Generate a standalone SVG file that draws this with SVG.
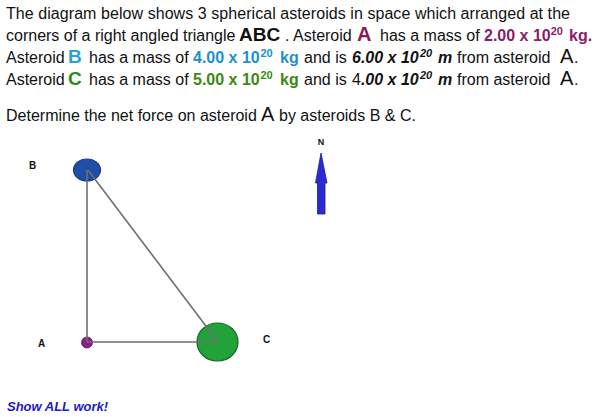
<svg xmlns="http://www.w3.org/2000/svg" width="596" height="417" viewBox="0 0 596 417">
<style>
text{font-family:"Liberation Sans",Arial,sans-serif;fill:#111}
.t{font-size:16px}
.b{font-weight:bold}
.bi{font-weight:bold;font-style:italic}
.sup{font-size:11px;font-weight:bold}
.mag{fill:#8a1c6a}
.blu{fill:#1e90cc}
.grn{fill:#3a8a12}
.lbl{font-size:10px;font-weight:bold}
.edge{stroke:#6e6e6e;stroke-width:1.6;fill:none}
</style>
<rect width="596" height="417" fill="#fff"/>
<g id="text">
<text class="t" x="6" y="19" textLength="564" lengthAdjust="spacing">The diagram below shows 3 spherical asteroids in space which arranged at the</text>
<text class="t" y="41"><tspan x="6">corners of a right angled triangle</tspan><tspan x="239" class="b" style="font-size:19px">ABC</tspan><tspan x="285">. Asteroid</tspan><tspan x="357" class="b mag" style="font-size:20px;fill:#8a1a5c">A</tspan><tspan x="380">has a mass of</tspan><tspan x="484" class="b mag">2.00 x 10</tspan><tspan class="sup mag" dy="-6">20</tspan><tspan class="b mag" dy="6" x="569">kg.</tspan></text>
<text class="t" y="63"><tspan x="6">Asteroid</tspan><tspan x="68" class="b" style="font-size:19px;fill:#2aa0dc">B</tspan><tspan x="89">has a mass of</tspan><tspan x="193" class="b blu">4.00 x 10</tspan><tspan x="260.5" class="sup blu" dy="-6">20</tspan><tspan x="280" class="b blu" dy="6">kg</tspan><tspan x="304">and is</tspan><tspan x="352" class="bi">6.00 x 10</tspan><tspan x="420" class="sup" style="font-style:italic" dy="-6">20</tspan><tspan x="438" class="bi" dy="6">m</tspan><tspan x="457">from asteroid</tspan><tspan x="560" style="font-size:20px">A</tspan><tspan x="574">.</tspan></text>
<text class="t" y="85"><tspan x="6">Asteroid</tspan><tspan x="68" class="b" style="font-size:19px;fill:#2a8a1e">C</tspan><tspan x="89">has a mass of</tspan><tspan x="193" class="b grn">5.00 x 10</tspan><tspan x="260.5" class="sup grn" dy="-6">20</tspan><tspan x="280" class="b grn" dy="6">kg</tspan><tspan x="304">and is</tspan><tspan x="352">4</tspan><tspan class="bi">.00 x 10</tspan><tspan x="420" class="sup" style="font-style:italic" dy="-6">20</tspan><tspan x="438" class="bi" dy="6">m</tspan><tspan x="457">from asteroid</tspan><tspan x="560" style="font-size:20px">A</tspan><tspan x="574">.</tspan></text>
<text class="t" y="121"><tspan x="6">Determine the net force on asteroid</tspan><tspan x="261" style="font-size:20px">A</tspan><tspan x="279">by asteroids B &amp; C.</tspan></text>
<text x="7" y="411" style="font-size:13px;font-weight:bold;font-style:italic;fill:#1a1ac8">Show ALL work!</text>
</g>
<g id="node-B">
<ellipse cx="87" cy="170" rx="13.5" ry="11" fill="#1f4ea6" stroke="#173d86" stroke-width="1.2"/>
<text class="lbl" x="29" y="169">B</text>
</g>
<g id="node-A">
<circle cx="87" cy="342.5" r="5.5" fill="#8a1e8a" stroke="#6a1070" stroke-width="0.8"/>
<text class="lbl" x="38" y="347">A</text>
</g>
<g id="node-C">
<ellipse cx="217.5" cy="342" rx="20.5" ry="19" fill="#22a33a" stroke="#136a22" stroke-width="1.2"/>
<text class="lbl" x="263" y="343">C</text>
</g>
<g id="connectors">
<line class="edge" x1="87" y1="170" x2="87" y2="342"/>
<line class="edge" x1="87" y1="342" x2="218" y2="342"/>
<line class="edge" x1="88" y1="170" x2="218" y2="342"/>
</g>
<g id="north">
<text class="lbl" x="321" y="145" text-anchor="middle" style="font-size:9px">N</text>
<path d="M321 153 L327 183 L325 183 L325 214 L317.5 214 L317.5 183 L315.5 183 Z" fill="#2b2bd6" stroke="#1a1a9a" stroke-width="0.8"/>
</g>
</svg>
